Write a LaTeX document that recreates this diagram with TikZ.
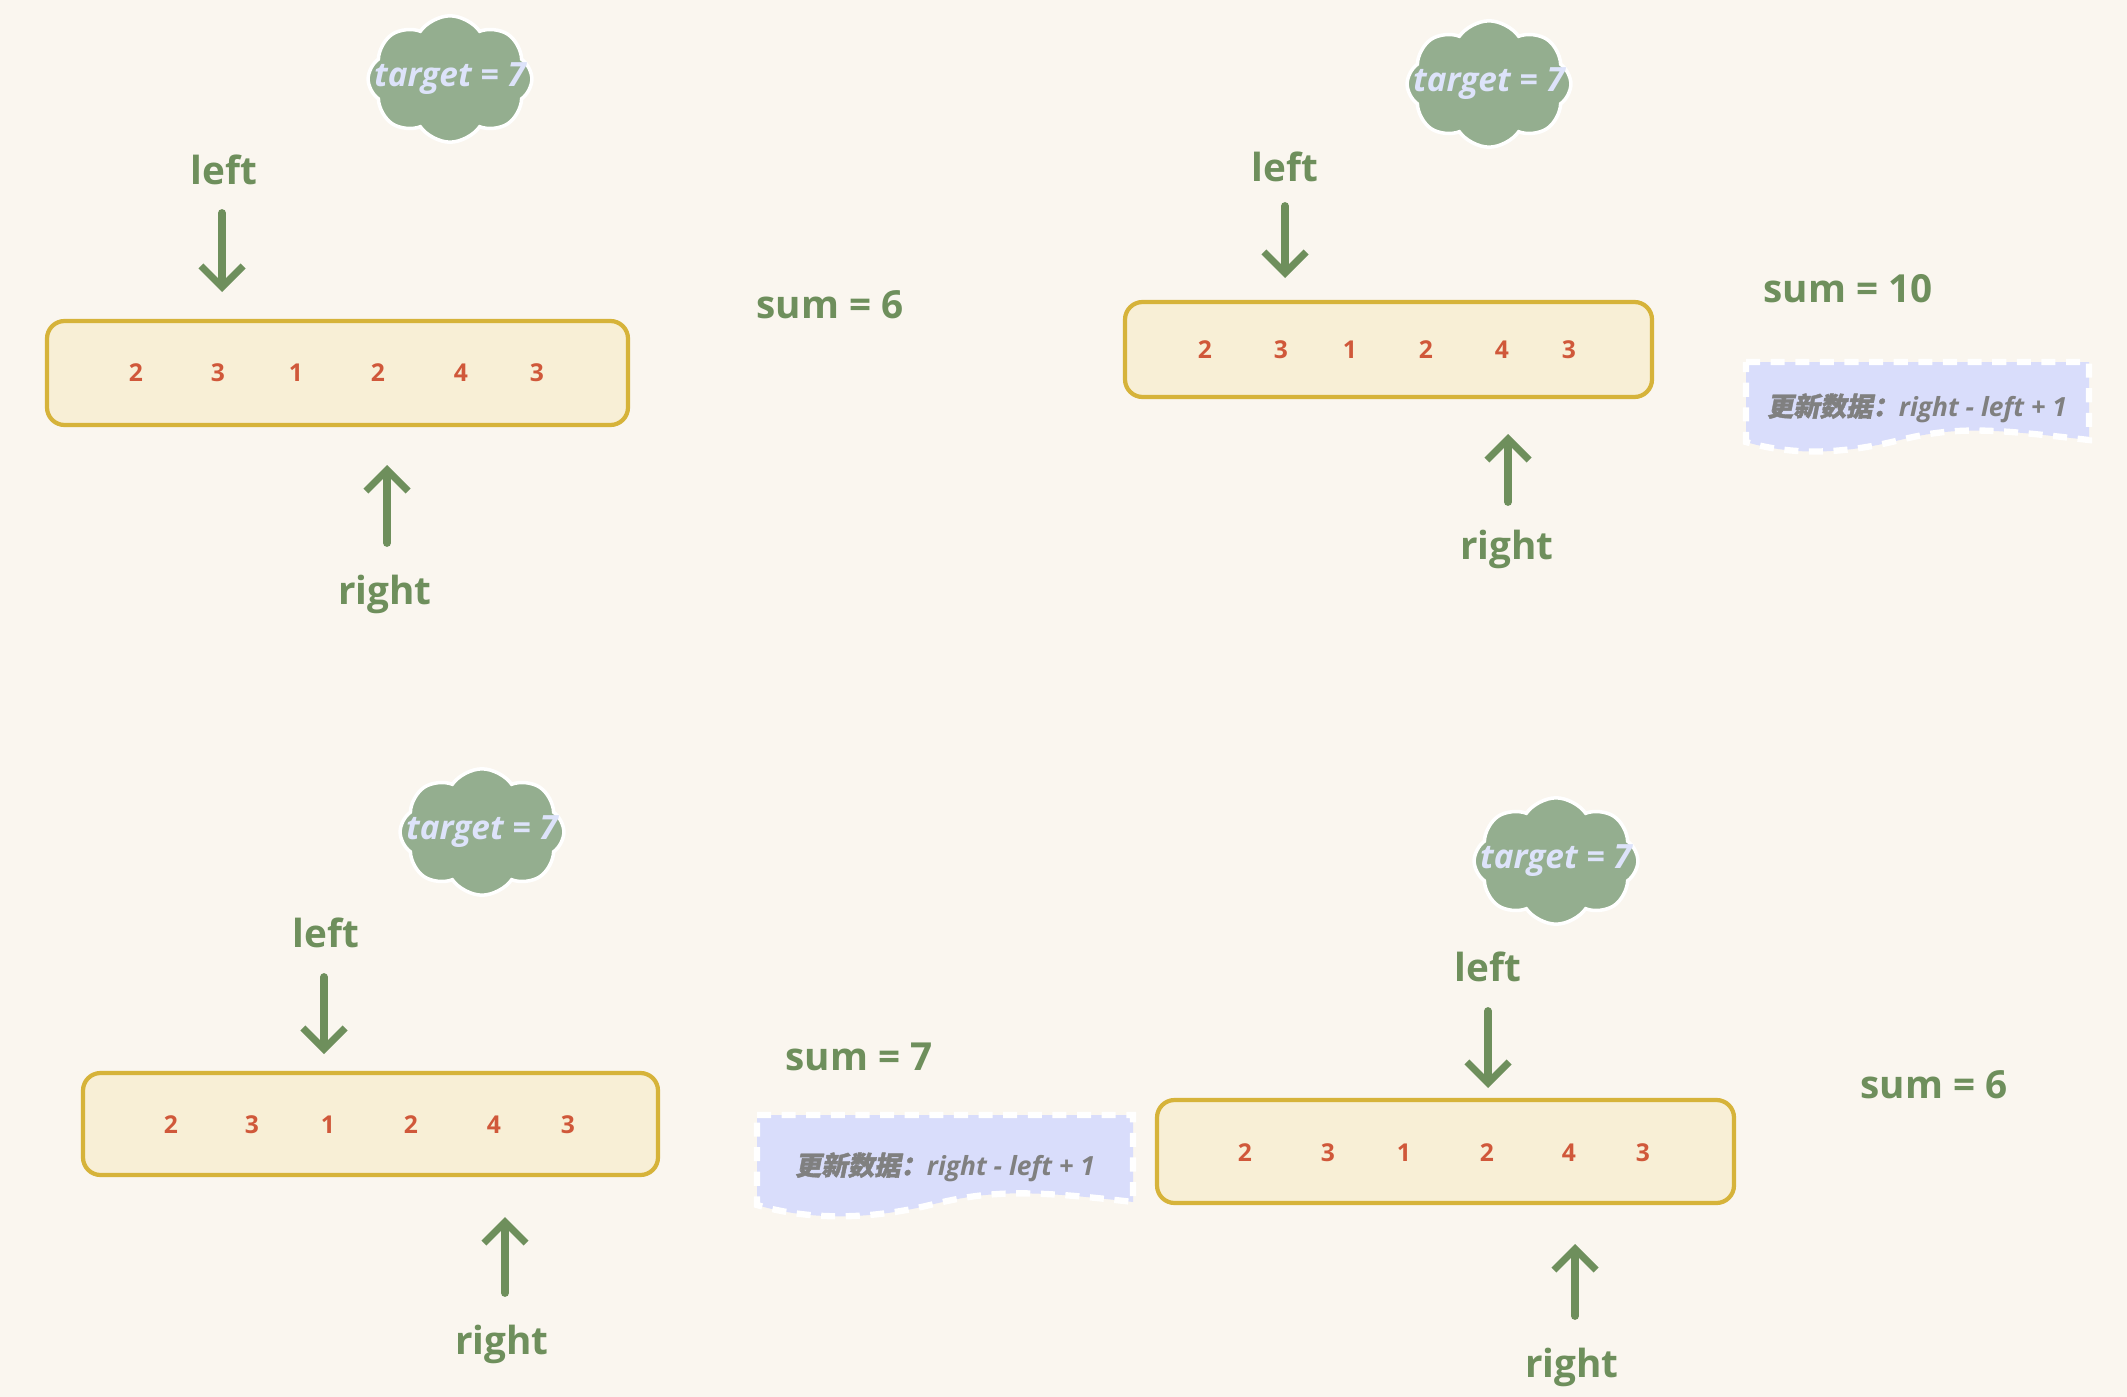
\documentclass[tikz,border=0pt]{standalone}
\usepackage{fontspec}
\setmainfont{Open Sans}
\newfontfamily\cjk[FakeBold=1.5,FakeSlant=0.2]{Noto Sans CJK SC}
\usetikzlibrary{shapes.symbols,arrows.meta}
\definecolor{bg}{HTML}{FAF6EF}
\definecolor{boxfill}{HTML}{F8EFD6}
\definecolor{boxline}{HTML}{D6B33A}
\definecolor{numc}{HTML}{D0583A}
\definecolor{grn}{HTML}{6E8F5C}
\definecolor{cloudc}{HTML}{94AE8F}
\definecolor{cloudt}{HTML}{DDE3FA}
\definecolor{notef}{HTML}{D9DDFB}
\definecolor{notet}{HTML}{808080}
\tikzset{
 arr/.style={draw=boxline,fill=boxfill,line width=1.2pt,rounded corners=5pt},
 num/.style={text=numc,font=\fontsize{7}{8}\selectfont\bfseries},
 lbl/.style={text=grn,font=\fontsize{11}{13}\selectfont\bfseries},
 ptr/.style={draw=grn,line width=2.2pt,line cap=round,-{Straight Barb[length=6pt,width=12pt,line width=2pt]}},
 cl/.style={cloud,cloud puffs=8,cloud puff arc=110,aspect=1.5,fill=cloudc,draw=white,line width=1pt,text=cloudt,font=\fontsize{9.5}{11}\selectfont\bfseries\itshape,inner xsep=-6pt,inner ysep=-2pt},
 note/.style={fill=notef,draw=white,line width=1.8pt,dash pattern=on 4pt off 3pt},
 notetxt/.style={text=notet,font=\fontsize{7.5}{9}\selectfont\bfseries\itshape}
}
\begin{document}
\begin{tikzpicture}[x=0.01cm,y=-0.01cm]
\fill[bg] (0,0) rectangle (2127,1397);
\useasboundingbox (0,0) rectangle (2127,1397);
% panel TL
\draw[arr] (47,321) rectangle (628,425);
\foreach \x/\v [count=\i] in {136/2,218/3,296/1,378/2,461/4,537/3} \node[num] (a\i) at (\x,373) {\v};
\node[lbl] (al) at (224,170) {left};
\coordinate (als) at (222,213); \coordinate (ale) at (222,292);
\draw[ptr] (als) -- (ale);
\node[lbl] (ar) at (385,594) {right};
\coordinate (ars) at (387,543); \coordinate (are) at (387,465);
\draw[ptr] (ars) -- (are);
\node[lbl] (as) at (830,305) {sum = 6};
\node[cl] (ac) at (450,79) {target = 7};
% panel TR
\draw[arr] (1125,302) rectangle (1652,397);
\foreach \x/\v [count=\i] in {1205/2,1281/3,1350/1,1426/2,1502/4,1569/3} \node[num] (b\i) at (\x,350) {\v};
\node[lbl] (bl) at (1285,167) {left};
\coordinate (bls) at (1285,206); \coordinate (ble) at (1285,278);
\draw[ptr] (bls) -- (ble);
\node[lbl] (br) at (1507,549) {right};
\coordinate (brs) at (1508,502); \coordinate (bre) at (1508,434);
\draw[ptr] (brs) -- (bre);
\node[lbl] (bs) at (1848,289) {sum = 10};
\node[cl] (bc) at (1489,84) {target = 7};
\draw[note] (1746,362) -- (2089,362) -- (2089,440) .. controls (2000,430) and (1960,425) .. (1900,440) .. controls (1840,455) and (1790,455) .. (1746,442) -- cycle;
\node[notetxt] (bn) at (1917,408) {{\cjk 更新数据：}right - left + 1};
% panel BL
\draw[arr] (83,1073) rectangle (658,1175);
\foreach \x/\v [count=\i] in {171/2,252/3,328/1,411/2,494/4,568/3} \node[num] (c\i) at (\x,1125) {\v};
\node[lbl] (cl) at (326,933) {left};
\coordinate (cls) at (324,977); \coordinate (cle) at (324,1054);
\draw[ptr] (cls) -- (cle);
\node[lbl] (cr) at (502,1344) {right};
\coordinate (crs) at (505,1293); \coordinate (cre) at (505,1217);
\draw[ptr] (crs) -- (cre);
\node[lbl] (cs) at (859,1057) {sum = 7};
\node[cl] (cc) at (482,832) {target = 7};
\draw[note] (757,1115) -- (1133,1115) -- (1133,1202) .. controls (1030,1190) and (990,1190) .. (930,1205) .. controls (860,1222) and (800,1218) .. (757,1205) -- cycle;
\node[notetxt] (cn) at (945,1167) {{\cjk 更新数据：}right - left + 1};
% panel BR
\draw[arr] (1157,1100) rectangle (1734,1203);
\foreach \x/\v [count=\i] in {1245/2,1328/3,1404/1,1487/2,1569/4,1643/3} \node[num] (d\i) at (\x,1153) {\v};
\node[lbl] (dl) at (1488,967) {left};
\coordinate (dls) at (1488,1011); \coordinate (dle) at (1488,1088);
\draw[ptr] (dls) -- (dle);
\node[lbl] (dr) at (1572,1367) {right};
\coordinate (drs) at (1575,1316); \coordinate (dre) at (1575,1244);
\draw[ptr] (drs) -- (dre);
\node[lbl] (ds) at (1934,1085) {sum = 6};
\node[cl] (dc) at (1556,861) {target = 7};
\end{tikzpicture}
\end{document}
